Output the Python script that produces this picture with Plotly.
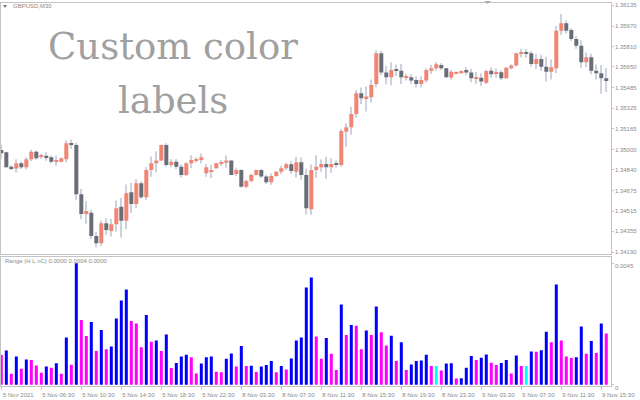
import plotly.graph_objects as go

# ---- data (GBPUSD, M30) ----
open_ = [1.34996,1.34978,1.34864,1.34849,1.34891,1.34860,1.34923,1.34982,1.34943,1.34951,
         1.34938,1.34904,1.34904,1.34923,1.35049,1.35035,1.34647,1.34492,1.34502,1.34319,
         1.34261,1.34419,1.34358,1.34411,1.34549,1.34439,1.34663,1.34571,1.34734,1.34624,
         1.34838,1.34891,1.34912,1.35035,1.34878,1.34904,1.34864,1.34799,1.34891,1.34912,
         1.34923,1.34812,1.34823,1.34852,1.34886,1.34896,1.34912,1.34807,1.34838,1.34707,
         1.34752,1.34799,1.34838,1.34786,1.34742,1.34791,1.34825,1.34852,1.34883,1.34825,
         1.34899,1.34799,1.34529,1.34838,1.34860,1.34886,1.34860,1.34891,1.34878,1.35140,
         1.35175,1.35279,1.35442,1.35405,1.35411,1.35516,1.35757,1.35605,1.35568,1.35626,
         1.35620,1.35565,1.35568,1.35547,1.35516,1.35542,1.35620,1.35639,1.35665,1.35639,
         1.35566,1.35600,1.35600,1.35626,1.35605,1.35560,1.35565,1.35526,1.35620,1.35594,
         1.35608,1.35560,1.35639,1.35660,1.35754,1.35762,1.35757,1.35673,1.35712,1.35652,
         1.35612,1.35639,1.35935,1.35994,1.35941,1.35870,1.35817,1.35686,1.35726,1.35620,
         1.35600,1.35560]
high = [1.35038,1.34982,1.34876,1.34922,1.34905,1.34938,1.34998,1.34992,1.34969,1.34978,
        1.34952,1.34950,1.34937,1.35073,1.35079,1.35053,1.34689,1.34594,1.34526,1.34352,
        1.34441,1.34458,1.34455,1.34597,1.34618,1.34723,1.34735,1.34765,1.34748,1.34860,
        1.34944,1.34983,1.35036,1.35049,1.34922,1.34924,1.34883,1.34900,1.34954,1.34939,
        1.34969,1.34886,1.34880,1.34895,1.34915,1.34952,1.34913,1.34856,1.34844,1.34764,
        1.34810,1.34842,1.34845,1.34800,1.34810,1.34831,1.34873,1.34895,1.34905,1.34943,
        1.34936,1.34848,1.34882,1.34954,1.34921,1.34943,1.34930,1.34912,1.35160,1.35206,
        1.35337,1.35469,1.35488,1.35498,1.35551,1.35781,1.35778,1.35659,1.35687,1.35666,
        1.35672,1.35596,1.35592,1.35575,1.35576,1.35639,1.35664,1.35689,1.35678,1.35642,
        1.35628,1.35615,1.35621,1.35647,1.35635,1.35609,1.35599,1.35628,1.35646,1.35637,
        1.35624,1.35647,1.35670,1.35762,1.35792,1.35791,1.35776,1.35753,1.35745,1.35730,
        1.35708,1.35972,1.36067,1.36016,1.35955,1.35894,1.35859,1.35763,1.35754,1.35668,
        1.35665,1.35642]
low = [1.34928,1.34856,1.34836,1.34818,1.34846,1.34845,1.34907,1.34921,1.34925,1.34911,
       1.34889,1.34871,1.34897,1.34898,1.35005,1.34604,1.34450,1.34414,1.34294,1.34227,
       1.34239,1.34327,1.34314,1.34352,1.34307,1.34371,1.34499,1.34539,1.34610,1.34602,
       1.34785,1.34820,1.34911,1.34863,1.34860,1.34844,1.34779,1.34789,1.34853,1.34898,
       1.34891,1.34785,1.34776,1.34847,1.34869,1.34856,1.34798,1.34789,1.34701,1.34695,
       1.34740,1.34795,1.34778,1.34727,1.34722,1.34785,1.34804,1.34839,1.34808,1.34780,
       1.34761,1.34488,1.34485,1.34776,1.34825,1.34770,1.34816,1.34858,1.34863,1.35022,
       1.35116,1.35251,1.35357,1.35298,1.35367,1.35492,1.35584,1.35514,1.35506,1.35578,
       1.35515,1.35542,1.35517,1.35487,1.35487,1.35528,1.35595,1.35620,1.35626,1.35564,
       1.35549,1.35592,1.35597,1.35584,1.35529,1.35518,1.35499,1.35516,1.35565,1.35564,
       1.35544,1.35556,1.35629,1.35654,1.35723,1.35722,1.35653,1.35631,1.35618,1.35534,
       1.35551,1.35601,1.35904,1.35912,1.35856,1.35793,1.35644,1.35649,1.35592,1.35551,
       1.35439,1.35453]
close = [1.34970,1.34860,1.34849,1.34891,1.34860,1.34923,1.34982,1.34931,1.34951,1.34938,
         1.34904,1.34917,1.34931,1.35049,1.35035,1.34647,1.34492,1.34516,1.34319,1.34261,
         1.34419,1.34366,1.34411,1.34537,1.34439,1.34655,1.34571,1.34734,1.34624,1.34838,
         1.34891,1.34912,1.35035,1.34878,1.34904,1.34864,1.34799,1.34891,1.34917,1.34925,
         1.34938,1.34860,1.34833,1.34891,1.34899,1.34912,1.34799,1.34838,1.34707,1.34752,
         1.34799,1.34838,1.34786,1.34742,1.34791,1.34825,1.34852,1.34883,1.34830,1.34899,
         1.34799,1.34537,1.34838,1.34864,1.34886,1.34860,1.34886,1.34880,1.35145,1.35175,
         1.35279,1.35442,1.35403,1.35416,1.35508,1.35757,1.35605,1.35568,1.35626,1.35618,
         1.35568,1.35573,1.35542,1.35516,1.35547,1.35626,1.35639,1.35671,1.35639,1.35568,
         1.35612,1.35608,1.35618,1.35605,1.35560,1.35568,1.35534,1.35618,1.35592,1.35608,
         1.35560,1.35644,1.35660,1.35757,1.35762,1.35752,1.35673,1.35712,1.35652,1.35612,
         1.35647,1.35935,1.35994,1.35935,1.35870,1.35817,1.35686,1.35726,1.35620,1.35600,
         1.35560,1.35539]

time_labels = ["5 Nov 2021", "5 Nov 06:30", "5 Nov 10:30", "5 Nov 14:30", "5 Nov 18:30",
               "5 Nov 22:30", "8 Nov 03:30", "8 Nov 07:30", "8 Nov 11:30", "8 Nov 15:30",
               "8 Nov 19:30", "8 Nov 23:30", "9 Nov 03:30", "9 Nov 07:30", "9 Nov 11:30",
               "9 Nov 15:30"]
label_bars = [0, 8, 16, 24, 32, 40, 48, 56, 64, 72, 80, 88, 96, 104, 112, 120]
price_ticks = [1.36135, 1.35970, 1.35810, 1.35650, 1.35485, 1.35325, 1.35165,
               1.35000, 1.34840, 1.34675, 1.34515, 1.34355, 1.34190]
range_ticks = [0, 0.0045]
range_tick_text = ["0", "0.0045"]

# ---- derived ----
idx = list(range(len(open_)))
BULL, BEAR = "#f28474", "#686d77"
WICK = "#cdd1dc"
UP, DOWN, EQ = "#0000ff", "#ff00ff", "#00ffff"

body_base = [min(o, c) for o, c in zip(open_, close)]
body_len = [abs(c - o) for o, c in zip(open_, close)]
body_col = [BULL if c > o else BEAR for o, c in zip(open_, close)]
wick_len = [h - l for h, l in zip(high, low)]

rng = [round(h - l, 5) for h, l in zip(high, low)]
rng_col = []
for i, r in enumerate(rng):
    if i == 0 or r < rng[i - 1]:
        rng_col.append(DOWN)
    elif r > rng[i - 1]:
        rng_col.append(UP)
    else:
        rng_col.append(EQ)

fig = go.Figure()
fig.add_trace(go.Bar(x=idx, y=wick_len, base=low, width=0.2,
                     marker=dict(color=WICK, line=dict(width=0)),
                     xaxis="x", yaxis="y", hoverinfo="skip"))
fig.add_trace(go.Bar(x=idx, y=body_len, base=body_base, width=0.8,
                     marker=dict(color=body_col, line=dict(width=0)),
                     xaxis="x", yaxis="y"))
fig.add_trace(go.Bar(x=idx, y=rng, width=0.6,
                     marker=dict(color=rng_col, line=dict(width=0)),
                     xaxis="x2", yaxis="y2"))

AX = "#c4c4c4"
TXT = "#8a8a8a"
FONT = "Liberation Sans"
xr = [-0.06, 121.88]
xdom = [0.0016, 0.9542]

fig.update_layout(
    width=640, height=400,
    margin=dict(l=0, r=0, t=0, b=0, autoexpand=False),
    paper_bgcolor="white", plot_bgcolor="white",
    barmode="overlay", showlegend=False,
    font=dict(family=FONT, size=6, color=TXT),
    xaxis=dict(domain=xdom, range=xr, anchor="y", showticklabels=False, automargin=False,
               showgrid=False, zeroline=False, showline=True, mirror=True,
               linecolor=AX, linewidth=1, ticks=""),
    yaxis=dict(domain=[0.365, 0.9925], range=[1.341767, 1.361531], side="right",
               anchor="x", tickvals=price_ticks, tickformat=".5f", automargin=False,
               ticks="outside", ticklen=2, tickcolor=AX,
               showgrid=False, zeroline=False, showline=True, mirror=True,
               linecolor=AX, linewidth=1,
               tickfont=dict(family=FONT, size=6, color=TXT)),
    xaxis2=dict(domain=xdom, range=xr, anchor="y2", automargin=False,
                tickvals=label_bars, ticktext=time_labels,
                ticks="outside", ticklen=3, tickcolor=AX, ticklabelshift=17,
                showgrid=False, zeroline=False, showline=True, mirror=True,
                linecolor=AX, linewidth=1,
                tickfont=dict(family=FONT, size=6, color=TXT)),
    yaxis2=dict(domain=[0.035, 0.3575], range=[-0.0000492, 0.004724], side="right",
                anchor="x2", tickvals=range_ticks, ticktext=range_tick_text,
                automargin=False,
                ticks="outside", ticklen=2, tickcolor=AX, ticklabelshift=3,
                showgrid=False, zeroline=False, showline=True, mirror=True,
                linecolor=AX, linewidth=1,
                tickfont=dict(family=FONT, size=6, color=TXT)),
)

fig.add_annotation(text="GBPUSD,M30", x=0.0172, y=0.985, xref="paper", yref="paper",
                   xanchor="left", yanchor="middle", showarrow=False,
                   font=dict(family=FONT, size=6, color=TXT))
fig.add_annotation(text="Range (H L nC) 0.0000 0.0004 0.0000", x=0.005, y=0.3475,
                   xref="paper", yref="paper", xanchor="left", yanchor="middle",
                   showarrow=False, font=dict(family=FONT, size=6, color=TXT))
fig.add_annotation(text="Custom color", x=0.2703, y=0.885, xref="paper", yref="paper",
                   xanchor="center", yanchor="middle", showarrow=False,
                   font=dict(family="DejaVu Serif", size=37, color="#a0a0a0"))
fig.add_annotation(text="labels", x=0.2703, y=0.7475, xref="paper", yref="paper",
                   xanchor="center", yanchor="middle", showarrow=False,
                   font=dict(family="DejaVu Serif", size=37, color="#a0a0a0"))

# small UI triangles (symbol menu and chart shift marker)
fig.add_shape(type="path", xref="paper", yref="paper",
              path="M 0.0047 0.9875 L 0.0109 0.9875 L 0.0078 0.98 Z",
              fillcolor="#7a7a7a", line=dict(width=0))
fig.add_shape(type="path", xref="paper", yref="paper",
              path="M 0.7563 0.9975 L 0.7672 0.9975 L 0.7617 0.99 Z",
              fillcolor="#b0b0b0", line=dict(width=0))

fig.write_html("out.html",
               config={"displayModeBar": False},
               post_script="document.body.style.margin='0';"
                           "document.body.style.overflow='hidden';")
